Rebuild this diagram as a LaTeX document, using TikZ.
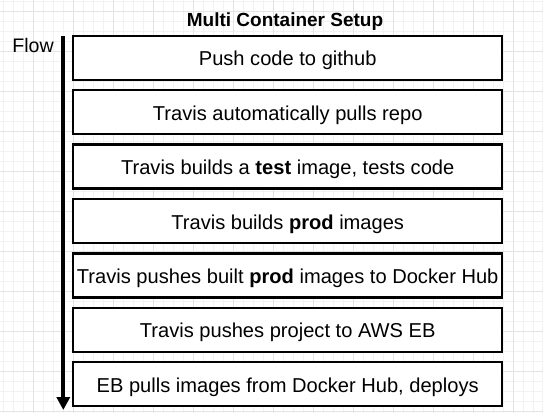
\documentclass[tikz,border=0pt]{standalone}
\usepackage{fontspec}
\setmainfont{Liberation Sans}
\usetikzlibrary{arrows.meta,positioning}
\pgfdeclarelayer{background layer}
\pgfsetlayers{background layer,main}
\definecolor{minorgrey}{gray}{0.95}
\definecolor{majorgrey}{gray}{0.89}

\begin{document}
\begin{tikzpicture}[x=1pt,y=1pt]
\tikzstyle{stepbox}=[draw=black,line width=2.5pt,fill=white,minimum width=429pt,minimum height=44pt,text height=20pt,text depth=4pt,font=\fontsize{20.1}{24}\selectfont]
\tikzstyle{label}=[anchor=base,font=\fontsize{19.6}{23}\selectfont]
\tikzstyle{flowarrow}=[line width=4pt,-{Triangle[width=13pt,length=13pt]}]
\useasboundingbox (0,0) rectangle (543,413);
\node [stepbox] at (287.7,355.2) (s1) {Push code to github};
\node [stepbox,below=7.9pt of s1] (s2) {Travis automatically pulls repo};
\node [stepbox,below=7.9pt of s2] (s3) {Travis builds a \textbf{test} image, tests code};
\node [stepbox,below=7.9pt of s3] (s4) {Travis builds \textbf{prod} images};
\node [stepbox,below=7.9pt of s4] (s5) {Travis pushes built \textbf{prod} images to Docker Hub};
\node [stepbox,below=7.9pt of s5] (s6) {Travis pushes project to AWS EB};
\node [stepbox,below=7.9pt of s6] (s7) {EB pulls images from Docker Hub, deploys};
\node [label,font=\bfseries\fontsize{19}{23}\selectfont] at (285,386) (title) {Multi Container Setup};
\node [label] at (33,360) (flow) {Flow};
\coordinate (flowtop) at (63.3,377);
\coordinate (flowend) at (63.3,3);
\draw [flowarrow] (flowtop) -- (flowend);
\begin{pgfonlayer}{background layer}
\fill [white] (0,0) rectangle (543,413);
\draw [minorgrey,line width=1pt,step=10pt,shift={(3,1.3)}] (-3,-1.3) grid (540,411.7);
\draw [majorgrey,line width=1pt,step=40pt,shift={(-7,1.3)}] (7,-1.3) grid (550,411.7);
\end{pgfonlayer}
\end{tikzpicture}
\end{document}
